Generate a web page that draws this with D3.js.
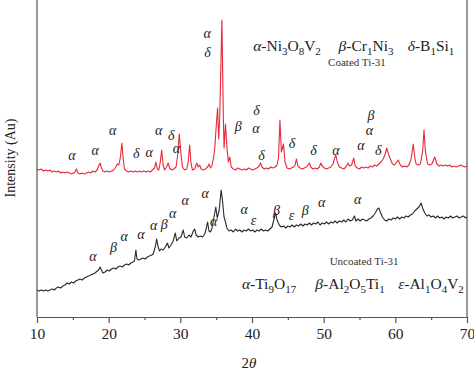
<!DOCTYPE html>
<html>
<meta charset="utf-8">
<style>
  body { margin: 0; padding: 0; background: #fff; }
  svg { display: block; font-family: "Liberation Serif", "DejaVu Serif", serif; }
  .axis path, .axis line { stroke: #555; stroke-width: 1.2px; }
  .axis text { font-size: 15.5px; fill: #222; font-family: "Liberation Serif", serif; }
  .trace { fill: none; stroke-width: 1.1px; stroke-linejoin: round; }
  .ann { font-size: 14px; font-style: italic; fill: #222; }
</style>
<body>
<svg id="chart" width="474" height="374"></svg>
<script src="https://cdn.jsdelivr.net/npm/d3@7"></script>
<script>
// coated Ti-31 trace: [2theta, intensity (a.u.)]
var coated = [
  [10.0,148],[10.3,147],[10.6,148],[10.9,146],[11.2,147],[11.5,146],[11.8,147],[12.1,145],[12.4,146],[12.7,145],
  [13.0,146],[13.3,144],[13.6,145],[13.9,144],[14.2,145],[14.5,144],[14.8,143],[15.1,144],[15.3,145],[15.5,148],
  [15.7,144],[16.0,143],[16.3,144],[16.6,143],[16.9,144],[17.2,145],[17.5,144],[17.8,146],[18.1,145],[18.4,147],
  [18.6,151],[18.8,154],[19.0,149],[19.2,146],[19.5,145],[19.8,146],[20.1,145],[20.4,146],[20.7,147],[21.0,150],
  [21.2,153],[21.4,152],[21.6,158],[21.85,174],[22.0,160],[22.2,148],[22.5,146],[22.8,145],[23.1,146],[23.4,145],
  [23.7,146],[24.0,145],[24.3,146],[24.6,145],[24.9,146],[25.2,145],[25.5,146],[25.8,145],[26.1,147],[26.4,149],
  [26.6,155],[26.8,148],[27.0,147],[27.2,155],[27.4,167],[27.6,152],[27.8,147],[28.0,149],[28.3,154],[28.5,149],
  [28.8,147],[29.1,148],[29.4,150],[29.6,160],[29.85,183],[30.1,162],[30.3,150],[30.6,147],[30.9,148],[31.1,155],
  [31.3,172],[31.5,153],[31.7,147],[32.0,148],[32.3,154],[32.5,150],[32.7,152],[32.9,148],[33.2,147],[33.5,148],
  [33.8,150],[34.0,153],[34.2,149],[34.4,151],[34.6,158],[34.8,168],[35.0,190],[35.2,209],[35.35,178],[35.5,200],
  [35.8,297],[36.0,200],[36.1,169],[36.3,193],[36.5,170],[36.7,155],[36.9,160],[37.1,150],[37.4,148],[37.7,147],
  [38.0,149],[38.3,148],[38.6,147],[38.9,148],[39.2,147],[39.5,149],[39.8,148],[40.1,147],[40.4,148],[40.7,149],
  [41.0,151],[41.2,154],[41.4,150],[41.7,148],[42.0,149],[42.3,148],[42.6,150],[42.9,149],[43.2,150],[43.5,152],
  [43.7,160],[43.9,197],[44.1,165],[44.4,173],[44.6,155],[44.9,149],[45.2,148],[45.5,149],[45.8,150],[46.0,152],
  [46.2,158],[46.4,151],[46.7,149],[47.0,148],[47.3,149],[47.6,150],[47.8,152],[48.0,154],[48.2,150],[48.5,148],
  [48.8,149],[49.1,148],[49.4,150],[49.6,154],[49.8,151],[50.1,149],[50.4,148],[50.7,149],[51.0,150],[51.3,153],
  [51.5,158],[51.7,162],[51.9,155],[52.2,150],[52.5,149],[52.8,148],[53.1,150],[53.4,154],[53.6,151],[53.9,152],
  [54.2,159],[54.4,151],[54.7,149],[55.0,148],[55.3,150],[55.6,149],[55.9,150],[56.2,149],[56.5,151],[56.8,150],
  [57.1,152],[57.4,151],[57.7,153],[58.0,155],[58.3,158],[58.6,163],[58.8,169],[59.0,164],[59.3,158],[59.6,153],
  [59.9,152],[60.1,154],[60.4,157],[60.7,152],[61.0,150],[61.3,151],[61.6,150],[61.9,152],[62.2,158],[62.5,173],
  [62.7,160],[62.9,153],[63.2,152],[63.5,153],[63.8,165],[64.0,187],[64.2,165],[64.5,153],[64.8,152],[65.1,153],
  [65.5,160],[65.8,153],[66.1,151],[66.4,152],[66.7,151],[67.0,152],[67.3,151],[67.6,152],[67.9,150],[68.2,151],
  [68.5,150],[68.8,151],[69.1,152],[69.4,151],[69.7,150],[70.0,151]
];

// uncoated Ti-31 trace
var uncoated = [
  [10.0,27],[10.3,26],[10.6,27],[10.9,26],[11.2,27],[11.5,26],[11.8,27],[12.1,28],[12.4,27],[12.7,29],
  [13.0,30],[13.3,29],[13.6,31],[13.9,32],[14.2,34],[14.5,33],[14.8,35],[15.1,34],[15.4,36],[15.7,37],
  [16.0,38],[16.3,37],[16.6,39],[16.9,40],[17.2,41],[17.5,42],[17.8,43],[18.1,44],[18.4,46],[18.6,47],
  [18.8,50],[19.0,47],[19.2,44],[19.5,45],[19.8,47],[20.1,46],[20.4,48],[20.7,49],[21.0,48],[21.3,50],
  [21.6,51],[21.9,50],[22.2,52],[22.5,53],[22.8,52],[23.1,54],[23.4,55],[23.6,56],[23.8,67],[23.95,58],
  [24.2,57],[24.5,58],[24.8,59],[25.1,58],[25.4,60],[25.7,61],[26.0,62],[26.2,63],[26.5,70],[26.7,78],
  [26.9,70],[27.1,66],[27.3,68],[27.6,67],[27.9,70],[28.2,74],[28.4,69],[28.7,72],[29.0,76],[29.3,84],
  [29.5,76],[29.8,79],[30.1,80],[30.4,87],[30.6,80],[30.9,79],[31.2,82],[31.5,80],[31.8,86],[32.0,88],
  [32.2,82],[32.5,80],[32.8,81],[33.1,80],[33.4,83],[33.6,88],[33.8,95],[34.0,86],[34.2,85],[34.4,88],
  [34.6,96],[34.8,104],[34.95,110],[35.15,99],[35.4,106],[35.7,127],[35.9,115],[36.1,100],[36.3,95],[36.5,89],
  [36.8,86],[37.1,87],[37.4,85],[37.7,88],[38.0,86],[38.3,87],[38.6,85],[38.9,87],[39.2,86],[39.5,88],
  [39.8,86],[40.1,87],[40.4,85],[40.7,87],[41.0,86],[41.3,88],[41.6,86],[41.9,87],[42.2,86],[42.5,88],
  [42.8,90],[43.0,96],[43.3,104],[43.5,97],[43.8,92],[44.1,90],[44.4,91],[44.7,89],[45.0,91],[45.3,90],
  [45.6,92],[45.9,90],[46.2,92],[46.5,91],[46.8,93],[47.1,91],[47.4,93],[47.7,92],[48.0,94],[48.3,92],
  [48.6,94],[48.9,93],[49.2,95],[49.5,92],[49.8,94],[50.1,93],[50.4,95],[50.7,93],[51.0,95],[51.3,94],
  [51.6,96],[51.9,94],[52.2,96],[52.5,95],[52.8,97],[53.1,95],[53.4,98],[53.7,96],[54.0,97],[54.3,101],
  [54.5,96],[54.8,98],[55.1,96],[55.4,98],[55.7,97],[56.0,96],[56.3,98],[56.6,99],[56.9,101],[57.2,104],
  [57.5,108],[57.7,109],[57.9,105],[58.2,100],[58.5,97],[58.8,96],[59.1,98],[59.4,97],[59.7,99],[60.0,98],
  [60.3,100],[60.6,98],[60.9,100],[61.2,99],[61.5,101],[61.8,100],[62.1,102],[62.4,103],[62.7,106],[63.0,108],
  [63.3,110],[63.6,114],[63.8,109],[64.1,104],[64.4,101],[64.7,102],[65.0,100],[65.3,101],[65.6,99],[65.9,101],
  [66.2,99],[66.5,100],[66.8,98],[67.1,100],[67.4,99],[67.7,101],[68.0,99],[68.3,100],[68.6,101],[68.9,99],
  [69.2,100],[69.5,101],[69.8,99],[70.0,100]
];

// phase marks: [2theta, intensity, letter]
var coatedMarks = [
  [14.88,161.7,"α"],[18.13,166.7,"α"],[20.55,186,"α"],[23.86,163.7,"δ"],[25.67,164.3,"α"],
  [26.97,186.7,"α"],[28.74,181,"δ"],[29.44,168.3,"α"],[33.76,283.7,"α"],[33.8,264.3,"δ"],
  [38.09,190,"β"],[40.64,206,"δ"],[40.56,188.7,"α"],[41.34,161.7,"δ"],[45.58,173.3,"δ"],
  [48.59,166.7,"δ"],[51.72,166,"α"],[55.21,171,"α"],[56.6,201,"β"],[56.37,186.7,"α"],[57.62,166.7,"δ"]
];
var uncoatedMarks = [
  [17.81,60.3,"α"],[20.69,69.3,"β"],[22.18,80.3,"α"],[24.51,82.7,"α"],[26.27,91,"α"],
  [27.76,92.7,"β"],[28.92,103.3,"α"],[30.69,116,"α"],[33.48,123.3,"α"],[34.64,95.3,"α"],
  [38.92,107.7,"α"],[40.22,96,"ε"],[43.43,106,"β"],[45.52,101,"ε"],[47.44,106.7,"β"],
  [49.71,114.3,"α"],[54.73,117.7,"α"]
];

var coatedPhases = ["α-Ni3O8V2", "β-Cr1Ni3", "δ-B1Si1"];
var uncoatedPhases = ["α-Ti9O17", "β-Al2O5Ti1", "ε-Al1O4V2"];
var xTicks = [10, 20, 30, 40, 50, 60, 70];
var xMinor = [15, 25, 35, 45, 55, 65];

var svg = d3.select("#chart"),
    margin = {top: 0, right: 7, bottom: 57, left: 37},
    width = 474 - margin.left - margin.right,
    height = 374 - margin.top - margin.bottom,
    g = svg.append("g").attr("transform", "translate(" + margin.left + "," + margin.top + ")");

var x = d3.scaleLinear().domain([10, 70]).range([0, width]);
var y = d3.scaleLinear().domain([0, height]).range([height, 0]);

var line = d3.line()
    .x(function(d) { return x(d[0]); })
    .y(function(d) { return y(d[1]); });

g.append("path").datum(uncoated).attr("class", "trace").attr("stroke", "#2a2a2a").attr("d", line);
g.append("path").datum(coated).attr("class", "trace").attr("stroke", "#e8283a").attr("d", line);

// frame: left and right sides run off the top
g.append("line").attr("x1", 0).attr("x2", 0).attr("y1", -5).attr("y2", height)
    .attr("stroke", "#555").attr("stroke-width", 1.2);
g.append("line").attr("x1", width).attr("x2", width).attr("y1", -5).attr("y2", height)
    .attr("stroke", "#555").attr("stroke-width", 1.2);

g.append("g")
    .attr("class", "axis")
    .attr("transform", "translate(0," + height + ")")
    .call(d3.axisBottom(x).tickValues(xTicks).tickSize(6).tickSizeOuter(0).tickPadding(5));

g.append("g")
    .attr("class", "axis")
    .attr("transform", "translate(0," + height + ")")
    .call(d3.axisBottom(x).tickValues(xMinor).tickSize(3).tickFormat(""))
    .select(".domain").remove();

// peak marks
function marks(data) {
  g.selectAll(null).data(data).enter().append("text")
      .attr("class", "ann")
      .attr("x", function(d) { return x(d[0]); })
      .attr("y", function(d) { return y(d[1]); })
      .attr("text-anchor", "middle")
      .attr("dy", "0.32em")
      .text(function(d) { return d[2]; });
}
marks(coatedMarks);
marks(uncoatedMarks);

// phase legend, numbers as subscripts
function phaseText(sel, s) {
  sel.append("tspan").style("font-style", "italic").text(s.charAt(0));
  var parts = s.slice(1).match(/[^0-9]+|[0-9]+/g);
  parts.forEach(function(p) {
    if (/[0-9]/.test(p)) {
      sel.append("tspan").attr("baseline-shift", "-4").style("font-size", "11px").text(p);
    } else {
      sel.append("tspan").text(p);
    }
  });
}
var legendX = [287, 366, 431];
coatedPhases.forEach(function(s, i) {
  var t = svg.append("text").attr("x", legendX[i]).attr("y", 51)
      .attr("text-anchor", "middle").style("font-size", "15.5px").attr("fill", "#222");
  phaseText(t, s);
});
var legendX2 = [269, 350, 431];
uncoatedPhases.forEach(function(s, i) {
  var t = svg.append("text").attr("x", legendX2[i]).attr("y", 289)
      .attr("text-anchor", "middle").style("font-size", "15.5px").attr("fill", "#222");
  phaseText(t, s);
});

svg.append("text").attr("x", 357).attr("y", 66).attr("text-anchor", "middle")
    .style("font-size", "11px").attr("fill", "#333").text("Coated Ti-31");
svg.append("text").attr("x", 364).attr("y", 265).attr("text-anchor", "middle")
    .style("font-size", "11px").attr("fill", "#333").text("Uncoated Ti-31");

// axis titles
svg.append("text").attr("x", 249).attr("y", 368).attr("text-anchor", "middle")
    .style("font-size", "15px").attr("fill", "#222")
    .html("2<tspan font-style=\"italic\">θ</tspan>");

svg.append("text")
    .attr("transform", "translate(15,158) rotate(-90)")
    .attr("text-anchor", "middle")
    .style("font-size", "14px").attr("fill", "#222")
    .text("Intensity (Au)");
</script>
</body>
</html>
